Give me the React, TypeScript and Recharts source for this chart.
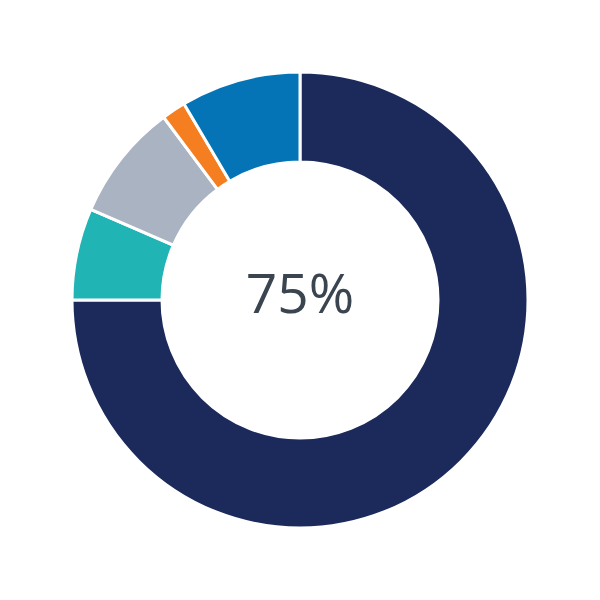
import React from 'react';
import { PieChart, Pie, Cell } from 'recharts';

const segmentNames = ['Navy', 'Teal', 'Gray', 'Orange', 'Blue'];
const segmentValues = [75, 6.5, 8.3, 1.7, 8.5];
const segmentColors = ['#1b2a5b', '#20b4b4', '#a9b3c1', '#f47e20', '#0474b6'];
const centerLabel = '75%';

const data = segmentNames.map((name, i) => ({ name, value: segmentValues[i] }));

const App: React.FC = () => (
  <div style={{ width: 592, height: 592 }}>
    <PieChart width={592} height={592} margin={{ top: 0, right: 0, bottom: 0, left: 0 }}>
      <Pie
        data={data}
        dataKey="value"
        nameKey="name"
        cx={292}
        cy={292}
        innerRadius={138}
        outerRadius={228}
        startAngle={90}
        endAngle={-270}
        stroke="#ffffff"
        strokeWidth={3}
        isAnimationActive={false}
      >
        {data.map((d, i) => (
          <Cell key={d.name} fill={segmentColors[i]} />
        ))}
      </Pie>
      <text
        x={292}
        y={283}
        textAnchor="middle"
        dominantBaseline="central"
        fontFamily="'Open Sans', sans-serif"
        fontSize={55}
        fill="#3a4550"
      >
        {centerLabel}
      </text>
    </PieChart>
  </div>
);

export default App;
